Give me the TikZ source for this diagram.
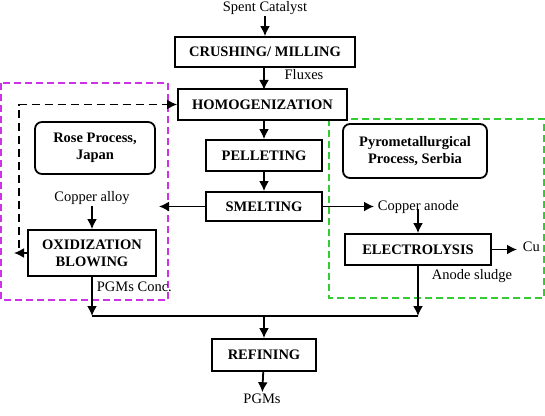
\documentclass[tikz,border=0pt]{standalone}
\usepackage{fontspec}
\setmainfont{Liberation Serif}
\usetikzlibrary{positioning, arrows.meta}

\definecolor{rosepurple}{RGB}{204,51,230}
\definecolor{serbgreen}{RGB}{51,204,51}

\begin{document}
\begin{tikzpicture}[x=1pt,y=-1pt,font=\fontsize{14.5}{16}\selectfont,line width=1.8pt,>={Latex[length=10pt,width=10pt]}]
    \tikzstyle{block} = [rectangle,draw=black,fill=white,text centered,font=\fontsize{14.5}{16}\selectfont\bfseries,inner sep=0pt]
    \tikzstyle{region} = [rounded corners=7pt,draw=black,fill=white,align=center,font=\fontsize{14.5}{17}\selectfont\bfseries,inner sep=0pt]
    \tikzstyle{txt} = [inner sep=1pt]
    \tikzstyle{frame} = [line width=1.4pt,dash pattern=on 7pt off 4pt]

    \useasboundingbox (0,0) rectangle (545,415);

    % process frames
    \draw [frame,rosepurple] (1,83) rectangle (168,300);
    \draw [frame,serbgreen] (329,119) rectangle (544,298);

    % main line
    \node (spent) [txt] at (265,8) {Spent Catalyst};
    \node (crush) [block,minimum width=180pt,minimum height=30pt] at (265,52) {CRUSHING/ MILLING};
    \node (flux) [txt] at (304,75) {Fluxes};
    \node (homog) [block,minimum width=169pt,minimum height=31pt] at (262.5,104.5) {HOMOGENIZATION};
    \node (pellet) [block,minimum width=116pt,minimum height=31pt] at (264,155.5) {PELLETING};
    \node (smelt) [block,minimum width=116pt,minimum height=29pt] at (264,206.5) {SMELTING};

    % Japan
    \node (rose) [region,minimum width=120pt,minimum height=52pt] at (95,148) {Rose Process,\\Japan};
    \node (calloy) [txt] at (92,198) {Copper alloy};
    \node (ox) [block,align=center,minimum width=128pt,minimum height=46pt,font=\fontsize{14.5}{17}\selectfont\bfseries] at (92,253) {OXIDIZATION\\BLOWING};
    \node (pgmc) [txt,anchor=west] at (95,287) {PGMs Conc.};
    \coordinate (alloyin) at (159,206.5);
    \coordinate (oxout) at (14,253);
    \coordinate (recyc) at (19,248);

    % Serbia
    \node (pyro) [region,minimum width=144pt,minimum height=54pt] at (415,151) {Pyrometallurgical\\Process, Serbia};
    \node (canode) [txt,anchor=west] at (376,207) {Copper anode};
    \node (electro) [block,minimum width=146pt,minimum height=31pt] at (418,249.5) {ELECTROLYSIS};
    \node (cu) [txt,anchor=west] at (521,247) {Cu};
    \node (sludge) [txt] at (472,276) {Anode sludge};
    \coordinate (anodein) at (374,206.5);
    \coordinate (cuin) at (517,249.5);

    % refining
    \coordinate (mleft) at (92,316);
    \coordinate (mright) at (418,316);
    \coordinate (mmid) at (264,316);
    \node (refine) [block,minimum width=104pt,minimum height=32pt] at (264,355) {REFINING};
    \node (pgms) [txt] at (262,399) {PGMs};

    \draw [->] (spent) -- (crush);
    \draw [->] (crush.south -| homog) ++(1.5,0) -- ++(0,22);
    \draw [->] (homog.south -| pellet) -- (pellet);
    \draw [->] (pellet) -- (smelt);
    \draw [->] (smelt) -- (alloyin);
    \draw [->] (calloy) -- (ox);
    \draw [->] (ox) -- (oxout);
    \draw [->,dash pattern=on 8pt off 5pt] (recyc) |- (homog);
    \draw [->] (smelt) -- (anodein);
    \draw [->] (canode.south -| electro) ++(0,-6) -- (electro);
    \draw [->] (electro) -- (cuin);
    \draw [->] (ox) -- (mleft);
    \draw [->] (electro) -- (mright);
    \draw [line width=1.4pt] (mleft) -- (mright);
    \draw [->] (mmid) -- (refine);
    \draw [->] (refine) -- (pgms);

\end{tikzpicture}
\end{document}
